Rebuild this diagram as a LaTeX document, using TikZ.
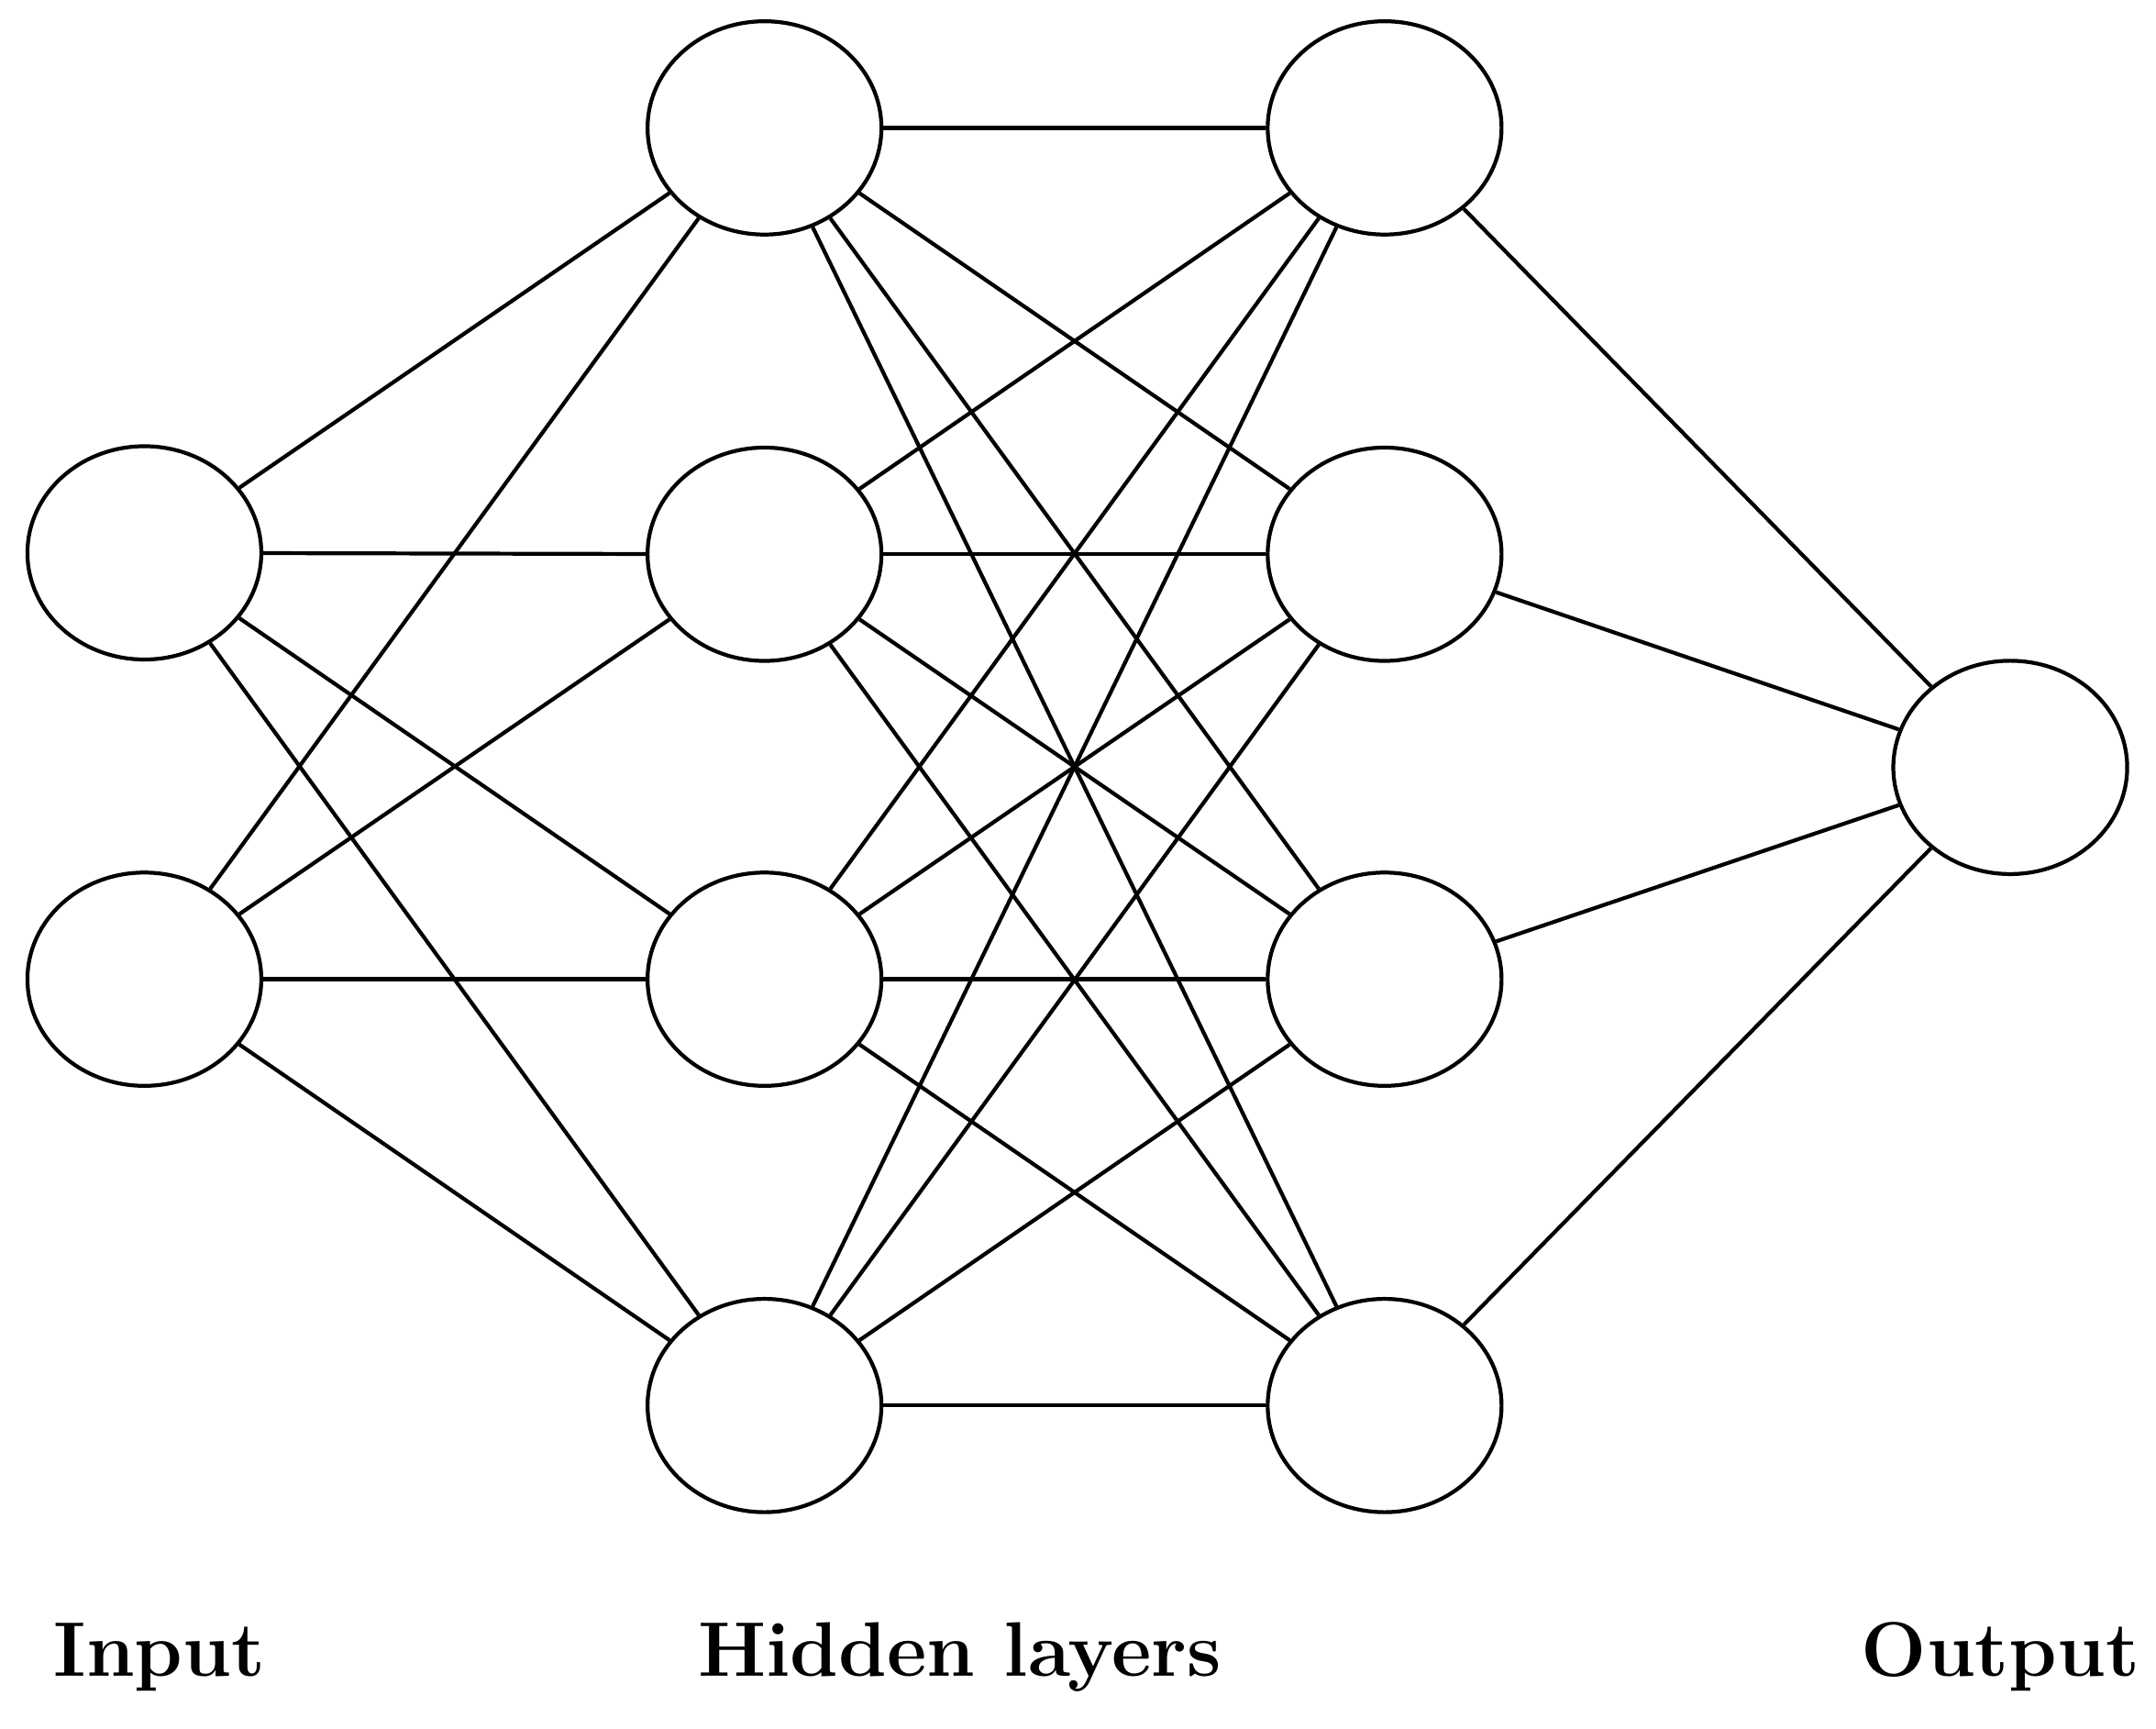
\documentclass[tikz,border=0pt]{standalone}
\usepackage{tikz}
\usetikzlibrary{shapes.geometric}
\begin{document}
\begin{tikzpicture}[x=0.01cm,y=-0.01cm,
  neuron/.style={draw,ellipse,minimum width=1.7cm,minimum height=1.55cm,line width=0.8pt},
  link/.style={line width=0.8pt},
  layer/.style={font=\fontsize{16}{20}\selectfont\bfseries}]
% fix the page size
\useasboundingbox (0,0) rectangle (1568,1257);

% input layer
\node[neuron] (in1) at (105,402) {};
\node[neuron] (in2) at (105,712) {};

% hidden layers
\foreach \i/\y in {1/93,2/403,3/712,4/1022} {
  \node[neuron] (ha\i) at (556,\y) {};
  \node[neuron] (hb\i) at (1007,\y) {};
}

% output layer
\node[neuron] (out) at (1462,558) {};

% connections
\foreach \i in {1,2} \foreach \j in {1,...,4} \draw[link] (in\i) -- (ha\j);
\foreach \i in {1,...,4} \foreach \j in {1,...,4} \draw[link] (ha\i) -- (hb\j);
\foreach \j in {1,...,4} \draw[link] (hb\j) -- (out);

% labels
\node[layer] (lin) at (116,1205) {Input};
\node[layer] (lhid) at (698,1205) {Hidden layers};
\node[layer] (lout) at (1455,1205) {Output};
\end{tikzpicture}
\end{document}
